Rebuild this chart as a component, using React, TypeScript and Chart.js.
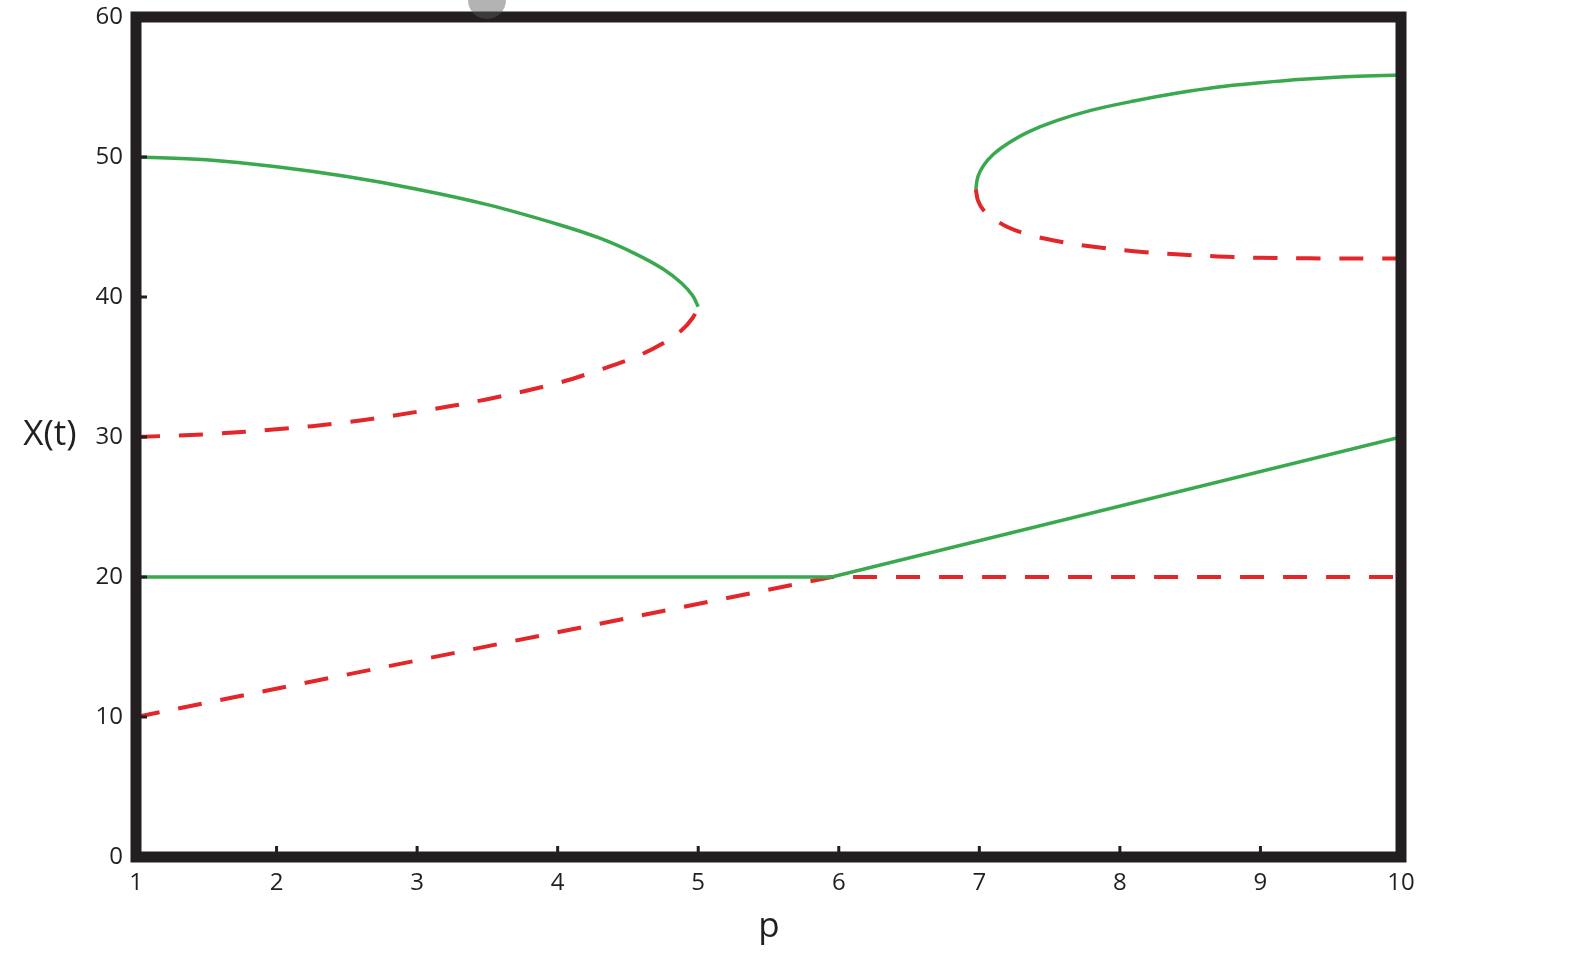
import { useEffect, useRef } from 'react';
import { Chart, registerables } from 'chart.js';

Chart.register(...registerables);

// Tick values
const xTickValues = [1, 2, 3, 4, 5, 6, 7, 8, 9, 10];
const yTickValues = [0, 10, 20, 30, 40, 50, 60];

// Left fold: stable (upper) branch
const leftStableP = [1.0, 1.5, 2.0, 2.5, 3.0, 3.5, 4.0, 4.3, 4.55, 4.75, 4.88, 4.96, 5.0];
const leftStableX = [50.0, 49.8, 49.3, 48.6, 47.7, 46.6, 45.2, 44.2, 43.1, 42.0, 41.0, 40.1, 39.3];

// Left fold: unstable (lower) branch
const leftUnstableP = [1.0, 1.5, 2.0, 2.5, 3.0, 3.5, 4.0, 4.3, 4.55, 4.75, 4.88, 4.96, 5.0];
const leftUnstableX = [30.0, 30.2, 30.55, 31.05, 31.8, 32.7, 33.85, 34.8, 35.7, 36.7, 37.6, 38.5, 39.3];

// Right fold: stable (upper) branch
const rightStableP = [6.975, 6.99, 7.03, 7.1, 7.2, 7.35, 7.55, 7.8, 8.1, 8.4, 8.7, 9.0, 9.3, 9.65, 10.0];
const rightStableX = [47.7, 48.6, 49.4, 50.2, 50.95, 51.8, 52.6, 53.35, 54.0, 54.55, 55.0, 55.3, 55.55, 55.75, 55.85];

// Right fold: unstable (lower) branch
const rightUnstableP = [6.975, 6.99, 7.03, 7.1, 7.2, 7.35, 7.55, 7.8, 8.1, 8.4, 8.7, 9.0, 9.35, 10.0];
const rightUnstableX = [47.7, 46.9, 46.2, 45.6, 45.0, 44.45, 44.0, 43.6, 43.27, 43.05, 42.9, 42.8, 42.76, 42.75];

// Transcritical exchange: stable branch
const lineStableP = [1, 5.95, 10];
const lineStableX = [20, 20, 30];

// Transcritical exchange: unstable branch
const lineUnstableP = [1, 5.95, 10];
const lineUnstableX = [10, 20, 20];

const GREEN = 'rgb(58,168,78)';
const RED = 'rgb(226,38,42)';
const INK = '#231f20';
const FONT = "'Open Sans', 'DejaVu Sans', sans-serif";

const zip = (ps: number[], xs: number[]) => ps.map((p, i) => ({ x: p, y: xs[i] }));

const framePlugin = {
  id: 'frame',
  afterDatasetsDraw(chart: any) {
    const { ctx, chartArea, scales } = chart;
    const xs = scales.x;
    const ys = scales.y;
    ctx.save();
    // frame
    ctx.strokeStyle = INK;
    ctx.lineWidth = 11;
    ctx.lineJoin = 'miter';
    ctx.strokeRect(chartArea.left, chartArea.top, chartArea.right - chartArea.left, chartArea.bottom - chartArea.top);
    // inward ticks
    ctx.lineWidth = 3;
    ctx.beginPath();
    xTickValues.slice(1, -1).forEach((v) => {
      const px = xs.getPixelForValue(v);
      ctx.moveTo(px, chartArea.bottom - 5);
      ctx.lineTo(px, chartArea.bottom - 11);
    });
    yTickValues.slice(1, -1).forEach((v) => {
      const py = ys.getPixelForValue(v);
      ctx.moveTo(chartArea.left + 5, py);
      ctx.lineTo(chartArea.left + 11, py);
    });
    ctx.stroke();
    // axis titles
    ctx.fillStyle = INK;
    ctx.textAlign = 'center';
    ctx.textBaseline = 'alphabetic';
    ctx.font = `35px ${FONT}`;
    ctx.fillText('X(t)', 50, 445);
    ctx.fillText('p', (chartArea.left + chartArea.right) / 2 + 0.5, 937);
    // grey blob at top
    ctx.fillStyle = 'rgba(90,90,90,0.46)';
    ctx.beginPath();
    ctx.arc(487, 0, 19, 0, Math.PI * 2);
    ctx.fill();
    ctx.restore();
  },
};

export default function App() {
  const ref = useRef<HTMLCanvasElement>(null);
  useEffect(() => {
    document.body.style.margin = '0';
    const canvas = ref.current;
    if (!canvas) return;
    const chart = new Chart(canvas, {
      type: 'scatter',
      data: {
        datasets: [
          { data: zip(leftStableP, leftStableX), borderColor: GREEN, borderWidth: 3.5, tension: 0.35, showLine: true, pointRadius: 0 },
          { data: zip(leftUnstableP, leftUnstableX), borderColor: RED, borderWidth: 4, borderDash: [24, 19], tension: 0.35, showLine: true, pointRadius: 0 },
          { data: zip(rightStableP, rightStableX), borderColor: GREEN, borderWidth: 3.5, tension: 0.35, showLine: true, pointRadius: 0 },
          { data: zip(rightUnstableP, rightUnstableX), borderColor: RED, borderWidth: 4, borderDash: [24, 19], tension: 0.35, showLine: true, pointRadius: 0 },
          { data: zip(lineStableP, lineStableX), borderColor: GREEN, borderWidth: 3.5, tension: 0, showLine: true, pointRadius: 0 },
          { data: zip(lineUnstableP, lineUnstableX), borderColor: RED, borderWidth: 4, borderDash: [24, 19], tension: 0, showLine: true, pointRadius: 0 },
        ],
      },
      options: {
        animation: false,
        responsive: false,
        layout: { padding: { top: 17, right: 172, left: 0, bottom: 0 } },
        plugins: { legend: { display: false }, tooltip: { enabled: false } },
        scales: {
          x: {
            type: 'linear',
            min: 1,
            max: 10,
            afterBuildTicks: (s: any) => { s.ticks = xTickValues.map((v) => ({ value: v })); },
            afterFit: (s: any) => { s.height = 115; s.paddingLeft = 0; s.paddingRight = 0; },
            ticks: { color: INK, font: { family: FONT, size: 24 }, padding: 12, maxRotation: 0, autoSkip: false },
            grid: { display: false, drawTicks: false },
            border: { display: false },
          },
          y: {
            type: 'linear',
            min: 0,
            max: 60,
            afterBuildTicks: (s: any) => { s.ticks = yTickValues.map((v) => ({ value: v })); },
            afterFit: (s: any) => { s.width = 136; s.paddingTop = 0; s.paddingBottom = 0; },
            ticks: { color: INK, font: { family: FONT, size: 24 }, padding: 13, autoSkip: false },
            grid: { display: false, drawTicks: false },
            border: { display: false },
          },
        },
      },
      plugins: [framePlugin],
    });
    return () => chart.destroy();
  }, []);
  return (
    <div style={{ width: 1573, height: 972, background: '#fff' }}>
      <canvas ref={ref} width={1573} height={972} style={{ display: 'block' }} />
    </div>
  );
}
